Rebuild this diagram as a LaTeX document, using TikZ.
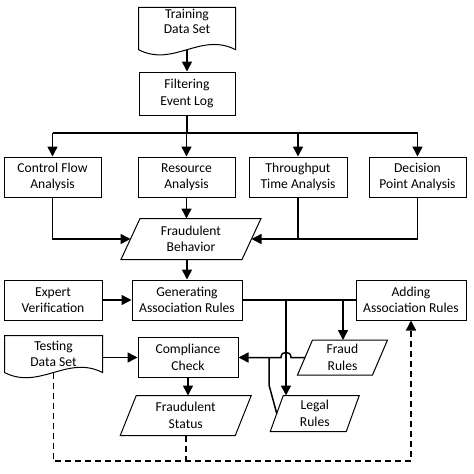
\documentclass[tikz,border=0pt]{standalone}
\usepackage{fontspec}
\setmainfont{Carlito}
\usetikzlibrary{arrows.meta,calc}
\tikzset{
  box/.style={draw, line width=1pt, minimum height=40pt, align=center, inner sep=1pt, font=\fontsize{13.6}{16.5}\selectfont},
  ln/.style={line width=1.5pt},
  arr/.style={line width=1.5pt, -{Triangle[length=10pt,width=10pt]}},
  dsh/.style={line width=1.5pt, dash pattern=on 6pt off 4pt},
  shp/.style={line width=1pt}
}
\newcommand\drawpara[2]{\draw[shp] ([xshift=-#2pt]#1.south west) -- ([xshift=#2pt]#1.north west) -- ([xshift=#2pt]#1.north east) -- ([xshift=-#2pt]#1.south east) -- cycle;}
\newcommand\drawdoc[1]{\draw[shp] (#1.south west) -- (#1.north west) -- (#1.north east) -- (#1.south east) .. controls ($(#1.south east)+(-35,-18)$) and ($(#1.south west)+(35,18)$) .. (#1.south west) -- cycle;}
\begin{document}
\begin{tikzpicture}[x=1pt,y=-1pt]
\useasboundingbox (0,0) rectangle (474,474);
\node[box, draw=none, minimum width=96pt, minimum height=37pt] (train) at (187,28.5) {Training\\[-1pt]Data Set\\[-2pt]\mbox{}};
\node[box, minimum width=96pt, minimum height=43pt] (filt) at (187,93.5) {Filtering\\Event Log};
\node[box, minimum width=97pt] (cfa) at (52.5,177) {Control Flow\\Analysis};
\node[box, minimum width=97pt] (res) at (186.5,177) {Resource\\Analysis};
\node[box, minimum width=98pt] (thr) at (298,177) {Throughput\\Time Analysis};
\node[box, minimum width=97pt] (dec) at (417.5,177) {Decision\\Point Analysis};
\node[box, draw=none, minimum width=120pt] (fb) at (191,239) {Fraudulent\\Behavior};
\node[box, minimum width=98pt] (exp) at (53,300) {Expert\\Verification};
\node[box, minimum width=110pt] (gen) at (187,300) {Generating\\Association Rules};
\node[box, minimum width=110pt] (add) at (411,300) {Adding\\Association Rules};
\node[box, draw=none, minimum width=97pt, minimum height=36pt] (test) at (53.5,354) {Testing\\Data Set};
\node[box, minimum width=100pt] (comp) at (188,357.5) {Compliance\\Check};
\node[box, draw=none, minimum width=74pt, minimum height=34pt] (fraud) at (342.5,357.5) {Fraud\\Rules};
\node[box, draw=none, minimum width=75pt, minimum height=35pt] (legal) at (314.75,413.5) {Legal\\Rules};
\node[box, draw=none, minimum width=114pt, minimum height=39pt] (fstat) at (185.75,415.5) {Fraudulent\\Status};
\drawdoc{train}
\drawdoc{test}
\drawpara{fb}{9.5}
\drawpara{fraud}{7.5}
\drawpara{legal}{6.5}
\drawpara{fstat}{8}
% connectors
\draw[arr] (train.south) -- (filt.north);
\coordinate (top) at (187,133);
\draw[ln] (filt.south) -- (top);
\draw[ln] (cfa.north |- top) -- (dec.north |- top);
\draw[arr] (cfa.north |- top) -- (cfa.north);
\draw[arr] (res.north |- top) -- (res.north);
\draw[arr] (thr.north |- top) -- (thr.north);
\draw[arr] (dec.north |- top) -- (dec.north);
\draw[arr] (cfa.south) |- (fb.west);
\draw[arr] (dec.south) |- (fb.east);
\draw[ln] (thr.south) -- (thr.south |- fb.east);
\draw[arr] (res.south) -- (res.south |- fb.north);
\draw[arr] (gen.north |- fb.south) -- (gen.north);
\draw[arr] (exp.east) -- (gen.west);
\draw[ln] (gen.east) -- (add.west);
\coordinate (j1) at (286,300);
\coordinate (j2) at (343,300);
\draw[arr] (j1) -- (j1 |- legal.north);
\draw[arr] (j2) -- (j2 |- fraud.north);
\draw[arr] (fraud.west) -- (291,357.5) .. controls (291,350.5) and (281,350.5) .. (281,357.5) -- (comp.east);
\draw[ln] (legal.west) -- (269,385) -- (269,357.5);
\draw[arr] (test.east |- comp.west) -- (comp.west);
\draw[arr] (comp.south) -- (comp.south |- fstat.north);
\coordinate (dc) at (411,461);
\draw[dsh, -{Triangle[length=10pt,width=10pt]}] (test.south) |- (dc) -- (add.south);
\draw[dsh] (fstat.south) -- (fstat.south |- dc);
\end{tikzpicture}
\end{document}
